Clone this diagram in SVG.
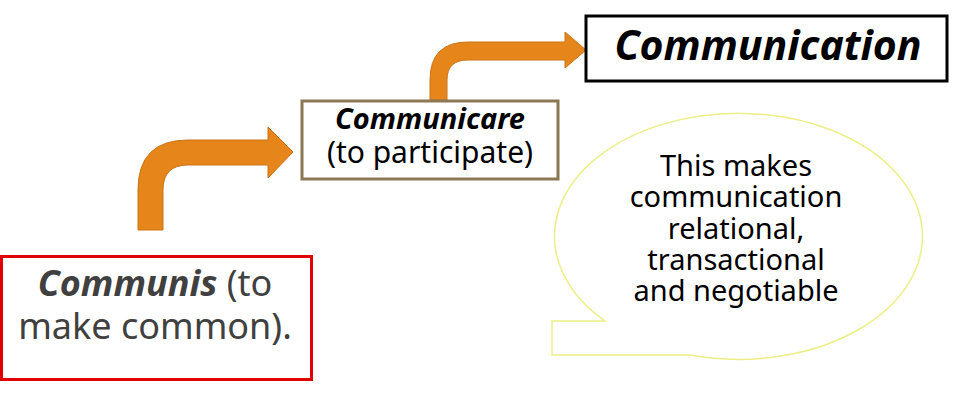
<svg xmlns="http://www.w3.org/2000/svg" width="957" height="403" viewBox="0 0 957 403">
<style>
text{font-family:"Noto Sans","Open Sans",sans-serif;text-anchor:middle}
.arr{fill:#E6851A;stroke:#C87416;stroke-width:1}
.bi{font-weight:bold;font-style:italic}
</style>
<rect width="957" height="403" fill="#fff"/>
<g id="connectors">
<path class="arr" d="M138,230 V190 Q138,140 188,140 H268 V127 L293,152 L268,178 V165 H188 Q163,165 163,190 V230 Z"/>
<path class="arr" d="M430,100 V80 Q430,42 468,42 H565 V32 L586,50 L565,68 V60 H468 Q447,60 447,80 V100 Z"/>
</g>
<g id="communis">
<rect x="1.5" y="256.5" width="310" height="123" fill="#fff" stroke="#E00000" stroke-width="3"/>
<text x="155" y="296" font-size="36" fill="#404040"><tspan class="bi">Communis</tspan> (to</text>
<text x="155" y="339" font-size="36" fill="#404040">make common).</text>
</g>
<g id="communicare">
<rect x="302" y="101" width="256" height="78" fill="#fff" stroke="#8C7853" stroke-width="3"/>
<text x="430" y="129" font-size="29" class="bi">Communicare</text>
<text x="430" y="163" font-size="30">(to participate)</text>
</g>
<g id="communication">
<rect x="586" y="16" width="361" height="65" fill="#fff" stroke="#000" stroke-width="3"/>
<text x="768" y="60" font-size="41" class="bi">Communication</text>
</g>
<g id="bubble">
<path d="M605,321 A184,123 0 1 1 690,355 L552,355 L552,321 Z" fill="#fff" stroke="#EEEE88" stroke-width="1.5"/>
<g font-size="29">
<text x="736" y="176">This makes</text>
<text x="736" y="207">communication</text>
<text x="736" y="239">relational,</text>
<text x="736" y="270">transactional</text>
<text x="736" y="301">and negotiable</text>
</g>
</g>
</svg>
